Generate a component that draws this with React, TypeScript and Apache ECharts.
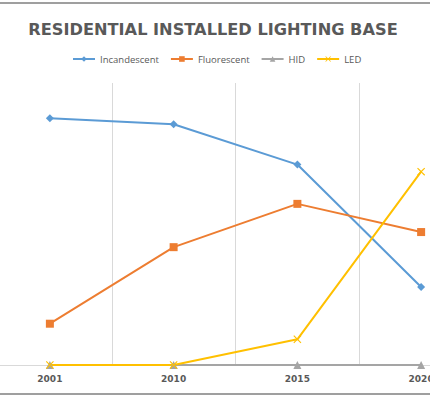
import { useEffect, useRef } from 'react';
import * as echarts from 'echarts';

const years = ['2001', '2010', '2015', '2020'];
const incandescent = [2450, 2390, 1990, 775];
const fluorescent = [410, 1170, 1600, 1320];
const hid = [0, 0, 0, 0];
const led = [0, 0, 255, 1920];

const TITLE = 'RESIDENTIAL INSTALLED LIGHTING BASE';
const X_MARK = 'path://M0,1L1,0L5,4L9,0L10,1L6,5L10,9L9,10L5,6L1,10L0,9L4,5Z';

// the plot runs past the right edge of the picture, so the canvas is shifted left
const SHIFT = 12;

export default function App() {
  const chartRef = useRef<HTMLDivElement>(null);

  useEffect(() => {
    if (!chartRef.current) return;
    const chart = echarts.init(chartRef.current, undefined, { renderer: 'svg' });

    const line = (name: string, data: number[], color: string, symbol: string, size: number) => ({
      name,
      type: 'line',
      data,
      symbol,
      symbolSize: size,
      lineStyle: { color, width: 2 },
      itemStyle: { color },
    });

    chart.setOption({
      animation: false,
      backgroundColor: '#fff',
      textStyle: { fontFamily: 'DejaVu Sans' },
      legend: {
        top: 49,
        left: 67 + SHIFT,
        itemWidth: 22,
        itemHeight: 7,
        itemGap: 11,
        textStyle: { fontSize: 9.5, color: '#595959', fontFamily: 'Open Sans' },
        data: ['Incandescent', 'Fluorescent', 'HID', 'LED'],
      },
      grid: { left: 0, right: 12, top: 83, bottom: 35 },
      xAxis: {
        type: 'category',
        data: years,
        boundaryGap: true,
        axisLine: { lineStyle: { color: '#d9d9d9', width: 1 } },
        axisTick: { show: false },
        axisLabel: { fontSize: 9, fontWeight: 'bold', color: '#595959', margin: 9 },
        splitLine: { show: true, lineStyle: { color: '#d9d9d9', width: 1 } },
      },
      yAxis: {
        type: 'value',
        min: 0,
        max: 2800,
        show: false,
        splitLine: { show: false },
      },
      graphic: [
        {
          type: 'text',
          x: 213 + SHIFT,
          y: 29,
          style: {
            text: TITLE,
            align: 'center',
            verticalAlign: 'middle',
            fontSize: 16.2,
            fontWeight: 'bold',
            fontFamily: 'DejaVu Sans',
            fill: '#595959',
          },
        },
        { type: 'line', shape: { x1: SHIFT, y1: 3, x2: 430 + SHIFT, y2: 3 }, style: { stroke: '#7f7f7f', lineWidth: 1.5 } },
        { type: 'line', shape: { x1: SHIFT, y1: 394, x2: 430 + SHIFT, y2: 394 }, style: { stroke: '#7f7f7f', lineWidth: 1.5 } },
      ],
      series: [
        line('Incandescent', incandescent, '#5B9BD5', 'diamond', 8),
        line('Fluorescent', fluorescent, '#ED7D31', 'rect', 8),
        line('HID', hid, '#A5A5A5', 'triangle', 8),
        line('LED', led, '#FFC000', X_MARK, 8),
      ],
    });

    return () => chart.dispose();
  }, []);

  return (
    <div style={{ position: 'fixed', left: 0, top: 0, width: 430, height: 400, overflow: 'hidden' }}>
      <div
        ref={chartRef}
        style={{ position: 'absolute', left: -SHIFT, top: 0, width: 507, height: 400 }}
      />
    </div>
  );
}
